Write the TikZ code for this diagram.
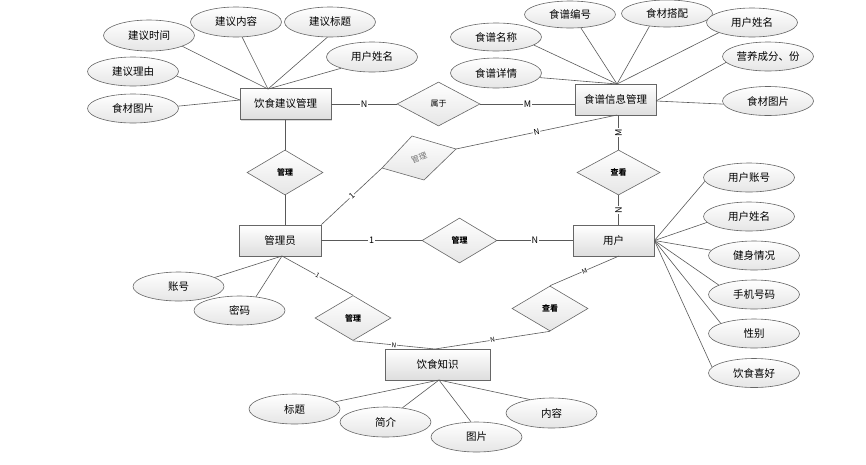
\documentclass[tikz,border=0pt]{standalone}
\usepackage{fontspec}
\setmainfont{Noto Sans CJK SC}
\usetikzlibrary{shapes.geometric,shadows}
\begin{document}
\begin{tikzpicture}[x=1pt,y=-1pt,
  conn/.style={draw=black!65, line width=0.6pt},
  entity/.style={rectangle, draw=black!60, line width=0.8pt, top color=white, bottom color=black!13,
    minimum height=31pt, inner sep=0pt, font=\fontsize{10.5}{12}\selectfont,
    drop shadow={shadow xshift=1.2pt, shadow yshift=-1.2pt, opacity=0.3}},
  attr/.style={ellipse, draw=black!60, line width=0.6pt, top color=white, bottom color=black!10,
    minimum width=91pt, minimum height=29pt, inner sep=0pt, font=\fontsize{10.5}{12}\selectfont},
  rel/.style={diamond, draw=black!60, line width=0.6pt, top color=white, bottom color=black!10,
    inner sep=0pt, minimum width=76pt, minimum height=45pt, font=\fontsize{8}{9}\selectfont\bfseries},
  card/.style={fill=white, inner sep=0.8pt, font=\fontsize{9}{10}\selectfont},
  scard/.style={fill=white, inner sep=0.5pt, font=\fontsize{6.5}{7}\selectfont}
]
\useasboundingbox (0,0) rectangle (866,464);

% entities
\node[entity, minimum width=91pt] (sug) at (285.5,104) {饮食建议管理};
\node[entity, minimum width=81pt] (rec) at (615.5,99.5) {食谱信息管理};
\node[entity, minimum width=82pt] (adm) at (280,240.5) {管理员};
\node[entity, minimum width=81pt] (usr) at (613.5,240.5) {用户};
\node[entity, minimum width=105pt] (kn) at (437.5,364.5) {饮食知识};

% relationships
\node[rel, minimum width=83pt, minimum height=44pt, font=\fontsize{8}{9}\selectfont] (belong) at (438.5,104) {属于};
\node[rel] (m1) at (285,172.5) {管理};
\node[rel, minimum width=83pt] (v1) at (618.5,172.5) {查看};
\node[rel, minimum width=75pt] (m2) at (459.5,240.5) {管理};
\node[rel] (m3) at (353,318) {管理};
\node[rel] (v2) at (550,308.5) {查看};

% tilted relationship
\coordinate (rdT) at (412,136);
\coordinate (rdR) at (456,149);
\coordinate (rdB) at (424,180);
\coordinate (rdL) at (382,168);
\path[draw=black!60, line width=0.6pt, top color=white, bottom color=black!10] (rdT) -- (rdR) -- (rdB) -- (rdL) -- cycle;
\node[rotate=20, text=black!55, font=\fontsize{8}{9}\selectfont] (m4) at (419,158) {管理};

% attributes of 饮食建议管理
\node[attr, minimum height=31pt] (a1) at (149,35.5) {建议时间};
\node[attr, minimum height=30pt] (a2) at (236,22) {建议内容};
\node[attr, minimum height=30pt] (a3) at (330,22) {建议标题};
\node[attr, minimum height=30pt] (a4) at (372,57) {用户姓名};
\node[attr] (a5) at (133,71.5) {建议理由};
\node[attr] (a6) at (133,108.5) {食材图片};

% attributes of 食谱信息管理
\node[attr, minimum height=27pt] (b1) at (570,14.5) {食谱编号};
\node[attr, minimum height=27pt] (b2) at (667,13.5) {食材搭配};
\node[attr] (b3) at (752,22.5) {用户姓名};
\node[attr, minimum height=28pt] (b4) at (496,37) {食谱名称};
\node[attr, minimum height=30pt] (b5) at (496,73) {食谱详情};
\node[attr] (b6) at (768,56.5) {营养成分、份};
\node[attr] (b7) at (768,101) {食材图片};

% attributes of 管理员
\node[attr] (c1) at (178.5,286.5) {账号};
\node[attr] (c2) at (239.5,310.5) {密码};

% attributes of 饮食知识
\node[attr, minimum height=30pt] (d1) at (294.5,409) {标题};
\node[attr, minimum height=30pt] (d2) at (385.5,422) {简介};
\node[attr, minimum height=30pt] (d3) at (476.5,437) {图片};
\node[attr, minimum height=30pt] (d4) at (551.5,413) {内容};

% attributes of 用户
\node[attr] (e1) at (749,177.5) {用户账号};
\node[attr] (e2) at (749,216.5) {用户姓名};
\node[attr] (e3) at (754,255.5) {健身情况};
\node[attr] (e4) at (754,294.5) {手机号码};
\node[attr] (e5) at (754,333.5) {性别};
\node[attr] (e6) at (754,373) {饮食喜好};

% anchor points on entities
\coordinate (sugT) at (268,89);
\coordinate (sugL) at (240,100);
\coordinate (recT) at (617,84);
\coordinate (recR) at (656,101);
\coordinate (recB) at (617,115);
\coordinate (admB) at (282,256);
\coordinate (knT) at (435,349);
\coordinate (knB) at (439,380);
\coordinate (usrB) at (619,256);

% attribute connectors
\draw[conn] (a1.-18) -- (sugT);
\draw[conn] (a2.-68) -- (sugT);
\draw[conn] (a3.-100) -- (sugT);
\draw[conn] (a4.200) -- (sugT);
\draw[conn] (a5.-6) -- (sugL);
\draw[conn] (a6.3) -- (sugL);

\draw[conn] (b1.-51) -- (recT);
\draw[conn] (b2.216) -- (recT);
\draw[conn] (b3.197) -- (recT);
\draw[conn] (b4.-12) -- (recT);
\draw[conn] (b5.-6) -- (recT);
\draw[conn] (b6.188) -- (recR);
\draw[conn] (b7.184) -- (recR);

\draw[conn] (c1.14) -- (admB);
\draw[conn] (c2.40) -- (admB);

\draw[conn] (d1.10) -- (knB);
\draw[conn] (d2.40) -- (knB);
\draw[conn] (d3.110) -- (knB);
\draw[conn] (d4.148) -- (knB);

\draw[conn] (e1.185) -- (usr.east);
\draw[conn] (e2.188) -- (usr.east);
\draw[conn] (e3.173) -- (usr.east);
\draw[conn] (e4.165) -- (usr.east);
\draw[conn] (e5.163) -- (usr.east);
\draw[conn] (e6.172) -- (usr.east);

% relationship connectors
\draw[conn] (sug.east) -- node[card]{N} (belong.west);
\draw[conn] (belong.east) -- node[card]{M} (belong.east -| rec.west);
\draw[conn] (v1.north |- rec.south) -- node[card, rotate=90]{M} (v1.north);
\draw[conn] (v1.south) -- node[card, rotate=90]{N} (v1.south |- usr.north);
\draw[conn] (recB) -- node[card, sloped, font=\fontsize{8}{9}\selectfont]{N} (rdR);
\draw[conn] (adm.north east) -- node[card, sloped, font=\fontsize{8}{9}\selectfont]{1} (rdL);
\draw[conn] (sug.south -| m1.north) -- (m1.north);
\draw[conn] (m1.south) -- (m1.south |- adm.north);
\draw[conn] (adm.east) -- node[card]{1} (m2.west);
\draw[conn] (m2.east) -- node[card]{N} (usr.west);
\draw[conn] (admB) -- node[scard, sloped]{1} (m3.north);
\draw[conn] (m3.south) -- node[scard, sloped]{N} (knT);
\draw[conn] (usrB) -- node[scard, sloped]{M} (v2.north);
\draw[conn] (v2.south) -- node[scard, sloped]{N} (knT);
\end{tikzpicture}
\end{document}
